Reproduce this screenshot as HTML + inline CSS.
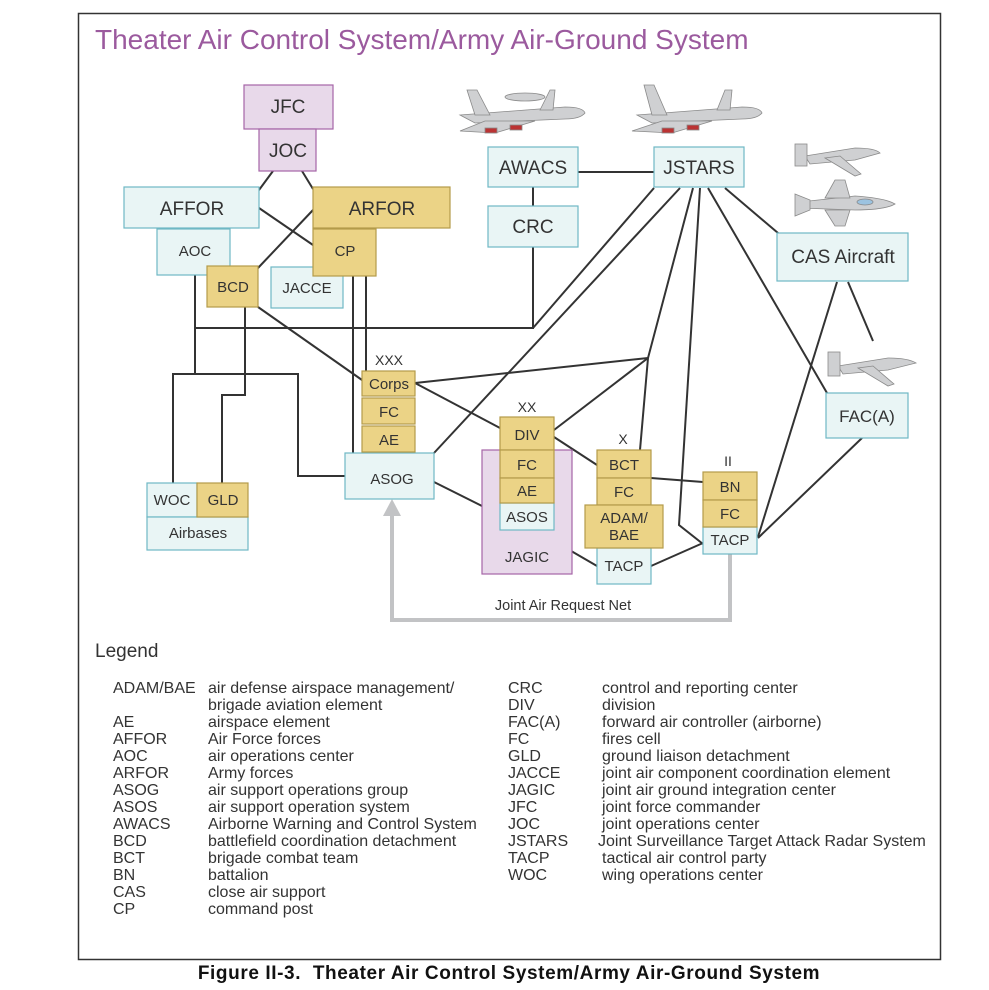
<!DOCTYPE html>
<html><head><meta charset="utf-8"><style>
html,body{margin:0;padding:0;background:#fff;}
svg{display:block;font-family:"Liberation Sans",Arial,sans-serif;}
</style></head><body>
<svg width="989" height="990" viewBox="0 0 989 990" xmlns="http://www.w3.org/2000/svg">
<rect x="0" y="0" width="989" height="990" fill="#fff"/>
<rect x="78.5" y="13.5" width="862" height="946" fill="#fff" stroke="#333" stroke-width="1.5"/>
<text x="95" y="49" font-size="28" fill="#9b5a9e">Theater Air Control System/Army Air-Ground System</text>

<!-- aircraft (simplified) -->
<g fill="#cfd0d2" stroke="#8a8a8a" stroke-width="0.8">
  <g transform="translate(455,85)">
    <ellipse cx="70" cy="12" rx="20" ry="4"/>
    <path d="M5 30 L110 22 Q128 22 130 28 Q125 34 110 34 L20 38 Z"/>
    <path d="M20 30 L12 5 L22 5 L35 30 Z"/>
    <path d="M30 36 L80 36 L40 48 L5 46 Z"/>
    <rect x="30" y="43" width="12" height="5" fill="#b33"/><rect x="55" y="40" width="12" height="5" fill="#b33"/>
    <path d="M85 25 L95 5 L100 5 L98 25 Z"/>
  </g>
  <g transform="translate(632,85)">
    <path d="M5 30 L110 22 Q128 22 130 28 Q125 34 110 34 L20 38 Z"/>
    <path d="M20 30 L12 0 L22 0 L35 30 Z"/>
    <path d="M30 36 L80 36 L40 48 L0 46 Z"/>
    <rect x="30" y="43" width="12" height="5" fill="#b33"/><rect x="55" y="40" width="12" height="5" fill="#b33"/>
    <path d="M85 25 L93 5 L100 5 L98 25 Z"/>
  </g>
  <g transform="translate(795,138)">
    <path d="M10 18 L60 10 Q80 10 85 15 L60 22 L15 26 Z"/>
    <rect x="0" y="6" width="12" height="22"/>
    <path d="M30 20 L60 38 L66 36 L45 18 Z"/>
  </g>
  <g transform="translate(795,180)">
    <path d="M5 22 L60 16 Q90 18 100 24 Q90 30 60 30 L5 28 Z"/>
    <path d="M30 18 L40 0 L50 0 L55 18 Z"/><path d="M30 30 L40 46 L50 46 L55 30 Z"/>
    <path d="M0 14 L15 20 L15 30 L0 36 Z"/>
    <ellipse cx="70" cy="22" rx="8" ry="3" fill="#9cc3e0"/>
  </g>
  <g transform="translate(828,348)">
    <path d="M10 18 L60 10 Q80 10 88 15 L60 22 L15 26 Z"/>
    <rect x="0" y="4" width="12" height="24"/>
    <path d="M30 20 L60 38 L66 36 L45 18 Z"/>
  </g>
</g>

<!-- connectors -->
<g stroke="#333" stroke-width="2" fill="none">
  <line x1="273" y1="171" x2="259" y2="190"/>
  <line x1="302" y1="171" x2="313" y2="189"/>
  <line x1="259" y1="208" x2="313" y2="245"/>
  <line x1="313" y1="210" x2="258" y2="268"/>
  <polyline points="195,275 195,374"/>
  <polyline points="195,328 533,328 533,247"/>
  <polyline points="173,483 173,374 298,374 298,476 345,476"/>
  <polyline points="222,483 222,395 245,395 245,307"/>
  <line x1="258" y1="307" x2="362" y2="380"/>
  <line x1="353" y1="276" x2="353" y2="453"/>
  <line x1="366" y1="276" x2="366" y2="372"/>
  <line x1="578" y1="172" x2="654" y2="172"/>
  <line x1="533" y1="187" x2="533" y2="206"/>
  <line x1="654" y1="188" x2="533" y2="328"/>
  <line x1="680" y1="188" x2="434" y2="453"/>
  <polyline points="693,188 648,358 640,450"/>
  <line x1="648" y1="358" x2="554" y2="430"/>
  <line x1="648" y1="358" x2="415" y2="383"/>
  <polyline points="700,188 679,525 703,544"/>
  <line x1="708" y1="188" x2="827" y2="393"/>
  <line x1="725" y1="188" x2="778" y2="233"/>
  <line x1="837" y1="282" x2="758" y2="537"/>
  <line x1="848" y1="282" x2="873" y2="341"/>
  <line x1="862" y1="438" x2="758" y2="538"/>
  <line x1="415" y1="383" x2="500" y2="428"/>
  <line x1="554" y1="437" x2="597" y2="465"/>
  <line x1="651" y1="478" x2="703" y2="482"/>
  <line x1="434" y1="482" x2="500" y2="515"/>
  <line x1="535" y1="530" x2="597" y2="566"/>
  <line x1="651" y1="566" x2="703" y2="543"/>
</g>

<!-- gray JARN arrow -->
<polyline points="730,554 730,620 392,620 392,514" fill="none" stroke="#c2c3c5" stroke-width="4"/>
<polygon points="383,516 401,516 392,499" fill="#c2c3c5"/>
<text x="563" y="610" font-size="14.5" fill="#333" text-anchor="middle">Joint Air Request Net</text>

<!-- JAGIC background -->
<rect x="482" y="450" width="90" height="124" fill="#e8d9ea" stroke="#a565a7" stroke-width="1.2"/>
<text x="527" y="562" font-size="15" fill="#333" text-anchor="middle">JAGIC</text>

<!-- boxes -->
<g stroke-width="1.2" font-size="16" fill="#333">
  <g fill="#e8d9ea" stroke="#a565a7">
    <rect x="244" y="85" width="89" height="44"/>
    <rect x="259" y="129" width="57" height="42"/>
  </g>
  <g fill="#e9f5f5" stroke="#6fb8c4">
    <rect x="124" y="187" width="135" height="41"/>
    <rect x="157" y="229" width="73" height="46"/>
    <rect x="271" y="267" width="72" height="41"/>
    <rect x="147" y="483" width="50" height="34"/>
    <rect x="147" y="517" width="101" height="33"/>
    <rect x="345" y="453" width="89" height="46"/>
    <rect x="500" y="503" width="54" height="27"/>
    <rect x="597" y="548" width="54" height="36"/>
    <rect x="703" y="527" width="54" height="27"/>
    <rect x="488" y="147" width="90" height="40"/>
    <rect x="488" y="206" width="90" height="41"/>
    <rect x="654" y="147" width="90" height="40"/>
    <rect x="777" y="233" width="131" height="48"/>
    <rect x="826" y="393" width="82" height="45"/>
  </g>
  <g fill="#ebd386" stroke="#b39b4a">
    <rect x="313" y="187" width="137" height="41"/>
    <rect x="313" y="229" width="63" height="47"/>
    <rect x="207" y="266" width="51" height="41"/>
    <rect x="197" y="483" width="51" height="34"/>
    <rect x="362" y="371" width="53" height="25"/>
    <rect x="362" y="398" width="53" height="26"/>
    <rect x="362" y="426" width="53" height="26"/>
    <rect x="500" y="417" width="54" height="33"/>
    <rect x="500" y="450" width="54" height="28"/>
    <rect x="500" y="478" width="54" height="25"/>
    <rect x="597" y="450" width="54" height="28"/>
    <rect x="597" y="478" width="54" height="27"/>
    <rect x="585" y="505" width="78" height="43"/>
    <rect x="703" y="472" width="54" height="28"/>
    <rect x="703" y="500" width="54" height="27"/>
  </g>
</g>
<g fill="#333" text-anchor="middle">
  <text x="288" y="113" font-size="19">JFC</text>
  <text x="288" y="157" font-size="19">JOC</text>
  <text x="192" y="215" font-size="19">AFFOR</text>
  <text x="382" y="215" font-size="19">ARFOR</text>
  <text x="195" y="256" font-size="15">AOC</text>
  <text x="345" y="256" font-size="15">CP</text>
  <text x="233" y="292" font-size="15">BCD</text>
  <text x="307" y="293" font-size="15">JACCE</text>
  <text x="172" y="505" font-size="15">WOC</text>
  <text x="223" y="505" font-size="15">GLD</text>
  <text x="198" y="538" font-size="15">Airbases</text>
  <text x="389" y="365" font-size="14">XXX</text>
  <text x="389" y="389" font-size="15">Corps</text>
  <text x="389" y="417" font-size="15">FC</text>
  <text x="389" y="445" font-size="15">AE</text>
  <text x="392" y="484" font-size="15">ASOG</text>
  <text x="527" y="412" font-size="14">XX</text>
  <text x="527" y="440" font-size="15">DIV</text>
  <text x="527" y="470" font-size="15">FC</text>
  <text x="527" y="496" font-size="15">AE</text>
  <text x="527" y="522" font-size="15">ASOS</text>
  <text x="623" y="444" font-size="14">X</text>
  <text x="624" y="470" font-size="15">BCT</text>
  <text x="624" y="497" font-size="15">FC</text>
  <text x="624" y="523" font-size="15">ADAM/</text>
  <text x="624" y="540" font-size="15">BAE</text>
  <text x="624" y="571" font-size="15">TACP</text>
  <text x="728" y="466" font-size="14">II</text>
  <text x="730" y="492" font-size="15">BN</text>
  <text x="730" y="519" font-size="15">FC</text>
  <text x="730" y="545" font-size="15">TACP</text>
  <text x="533" y="174" font-size="19">AWACS</text>
  <text x="533" y="233" font-size="19">CRC</text>
  <text x="699" y="174" font-size="19">JSTARS</text>
  <text x="843" y="263" font-size="19">CAS Aircraft</text>
  <text x="867" y="422" font-size="17">FAC(A)</text>
</g>

<!-- legend -->
<text x="95" y="657" font-size="19" fill="#333">Legend</text>
<g font-size="16" fill="#333">
  <text x="113" y="693">ADAM/BAE</text><text x="208" y="693">air defense airspace management/</text>
  <text x="208" y="710">brigade aviation element</text>
  <text x="113" y="727">AE</text><text x="208" y="727">airspace element</text>
  <text x="113" y="744">AFFOR</text><text x="208" y="744">Air Force forces</text>
  <text x="113" y="761">AOC</text><text x="208" y="761">air operations center</text>
  <text x="113" y="778">ARFOR</text><text x="208" y="778">Army forces</text>
  <text x="113" y="795">ASOG</text><text x="208" y="795">air support operations group</text>
  <text x="113" y="812">ASOS</text><text x="208" y="812">air support operation system</text>
  <text x="113" y="829">AWACS</text><text x="208" y="829">Airborne Warning and Control System</text>
  <text x="113" y="846">BCD</text><text x="208" y="846">battlefield coordination detachment</text>
  <text x="113" y="863">BCT</text><text x="208" y="863">brigade combat team</text>
  <text x="113" y="880">BN</text><text x="208" y="880">battalion</text>
  <text x="113" y="897">CAS</text><text x="208" y="897">close air support</text>
  <text x="113" y="914">CP</text><text x="208" y="914">command post</text>

  <text x="508" y="693">CRC</text><text x="602" y="693">control and reporting center</text>
  <text x="508" y="710">DIV</text><text x="602" y="710">division</text>
  <text x="508" y="727">FAC(A)</text><text x="602" y="727">forward air controller (airborne)</text>
  <text x="508" y="744">FC</text><text x="602" y="744">fires cell</text>
  <text x="508" y="761">GLD</text><text x="602" y="761">ground liaison detachment</text>
  <text x="508" y="778">JACCE</text><text x="602" y="778">joint air component coordination element</text>
  <text x="508" y="795">JAGIC</text><text x="602" y="795">joint air ground integration center</text>
  <text x="508" y="812">JFC</text><text x="602" y="812">joint force commander</text>
  <text x="508" y="829">JOC</text><text x="602" y="829">joint operations center</text>
  <text x="508" y="846">JSTARS</text><text x="598" y="846">Joint Surveillance Target Attack Radar System</text>
  <text x="508" y="863">TACP</text><text x="602" y="863">tactical air control party</text>
  <text x="508" y="880">WOC</text><text x="602" y="880">wing operations center</text>
</g>
<text x="509" y="979" font-size="19" font-weight="bold" fill="#111" text-anchor="middle" letter-spacing="0.6" xml:space="preserve">Figure II-3.  Theater Air Control System/Army Air-Ground System</text>
</svg>
</body></html>
